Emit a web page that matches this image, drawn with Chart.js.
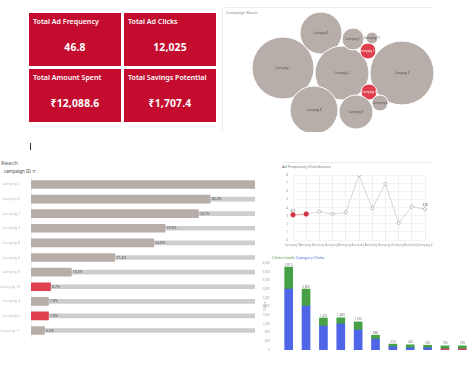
<!DOCTYPE html>
<html>
<head>
<meta charset="utf-8">
<script src="https://cdn.jsdelivr.net/npm/chart.js@4.4.1/dist/chart.umd.min.js"></script>
<style>
  body { margin: 0; background: #fff; font-family: "Noto Sans", "DejaVu Sans", sans-serif; }
  #page { position: relative; width: 474px; height: 365px; overflow: hidden; }
  .kpi { position: absolute; width: 92px; height: 53px; background: #c40c2e; color: #fff; }
  .kpi .t { position: absolute; left: 4px; top: 3px; font-size: 7.1px; font-weight: 600; }
  .kpi .v { position: absolute; left: 0; right: 0; top: 27px; text-align: center; font-size: 10.3px; font-weight: 700; letter-spacing: 0.2px; }
  .tiny { position: absolute; font-size: 4px; color: #888; white-space: nowrap; }
  canvas { position: absolute; }
  .line { position: absolute; background: #ececec; }
</style>
</head>
<body>
<div id="page">
  <div class="kpi" style="left:29px;top:13px"><div class="t">Total Ad Frequency</div><div class="v">46.8</div></div>
  <div class="kpi" style="left:124px;top:13px"><div class="t">Total Ad Clicks</div><div class="v">12,025</div></div>
  <div class="kpi" style="left:29px;top:69px"><div class="t">Total Amount Spent</div><div class="v">₹12,088.6</div></div>
  <div class="kpi" style="left:124px;top:69px"><div class="t">Total Savings Potential</div><div class="v">₹1,707.4</div></div>

  <div class="line" style="left:225px;top:7px;width:207px;height:1px"></div>
  <div class="line" style="left:222px;top:8px;width:1px;height:124px"></div>
  <div class="tiny" style="left:226px;top:10px">Campaign Reach</div>
  <canvas id="bubble" width="210" height="124" style="left:225px;top:8px"></canvas>

  <div style="position:absolute;left:30px;top:143px;width:1px;height:7px;background:#333"></div>
  <div class="tiny" style="left:1px;top:159px;font-size:6px;color:#666">Reach</div>
  <div class="tiny" style="left:4px;top:168px;font-size:4.5px;color:#444">campaign ID ≡</div>
  <canvas id="reach" width="262" height="171" style="left:0px;top:172px"></canvas>

  <div class="line" style="left:282px;top:162px;width:150px;height:1px"></div>
  <div class="tiny" style="left:282px;top:164px;font-size:4px;color:#777">Ad Frequency Distribution</div>
  <canvas id="freq" width="158" height="86" style="left:278px;top:164px"></canvas>

  <div class="tiny" style="left:272px;top:255px;font-size:4px"><span style="color:#3f9b3f">Clicks Leads</span> <span style="color:#4a63e0">Category Clicks</span></div>
  <canvas id="clicks" width="212" height="103" style="left:262px;top:255px"></canvas>
</div>

<script>
// bubble chart (packed circles)
const bubbleNames = ["Campaig 1", "Campaig 6", "Campaig 2", "Campaig 3", "Campaig 7", "Campaig 11", "Campaig 10", "Campaig 5", "Campaig 4", "Campaig 9", "Campaig 8"];
const bubbleX = [58, 96, 117, 177, 128, 147, 143, 144, 155, 131, 89];
const bubbleY = [60, 25, 65, 65, 31, 30, 43, 84, 95, 104, 102];
const bubbleR = [31, 21, 27, 32, 11, 6, 8, 8, 8, 17, 24];
const bubbleHot = ["Campaig 10", "Campaig 5"];

// reach bars
const reachNames = ["Campaig 2", "Campaig 6", "Campaig 7", "Campaig 3", "Campaig 8", "Campaig 0", "Campaig 9", "Campaig 10", "Campaig 4", "Campaig 5", "Campaig 11"];
const reachPct = [100, 80.0, 74.7, 59.8, 54.8, 37.4, 18.0, 8.7, 7.8, 7.8, 6.0];
const reachHot = ["Campaig 10", "Campaig 5"];

// ad frequency line
const freqNames = ["Campaig 10", "Campaig 5", "Campaig 2", "Campaig 6", "Campaig 3", "Campaig 8", "Campaig 0", "Campaig 7", "Campaig 9", "Campaig 1", "Campaig 4"];
const freqVals = [3.1, 3.2, 3.5, 3.2, 3.4, 8.0, 3.9, 6.9, 2.1, 4.1, 3.8];
const freqHot = ["Campaig 10", "Campaig 5"];

// clicks stacked bars
const clickNames = ["Campaig 2", "Campaig 6", "Campaig 7", "Campaig 3", "Campaig 8", "Campaig 0", "Campaig 9", "Campaig 4", "Campaig 11", "Campaig 10", "Campaig 5"];
const clickBase = [2800, 2020, 1100, 1200, 920, 500, 150, 100, 100, 50, 50];
const clickLeads = [1010, 780, 370, 280, 370, 180, 120, 140, 120, 140, 140];
const clickHot = ["Campaig 10", "Campaig 5"];

const GREY = "#b7aeaa";
const RED = "#e0404e";
const FONT = "'Noto Sans', 'DejaVu Sans', sans-serif";
Chart.defaults.font.family = FONT;
Chart.defaults.animation = false;

new Chart(document.getElementById('bubble'), {
  type: 'bubble',
  data: {
    datasets: [{
      data: bubbleNames.map((n, i) => ({ x: bubbleX[i], y: bubbleY[i], r: bubbleR[i] })),
      backgroundColor: bubbleNames.map(n => bubbleHot.includes(n) ? RED : GREY),
      borderColor: "#fff", borderWidth: 1, clip: false
    }]
  },
  options: {
    responsive: false,
    layout: { padding: 0, autoPadding: false },
    plugins: { legend: { display: false }, tooltip: { enabled: false } },
    scales: {
      x: { display: false, min: 0, max: 210 },
      y: { display: false, min: 0, max: 124, reverse: true }
    }
  },
  plugins: [{
    id: 'bubbleLabels',
    afterDatasetsDraw(chart) {
      const ctx = chart.ctx;
      ctx.save();
      ctx.font = "3px " + FONT;
      ctx.textAlign = "center"; ctx.textBaseline = "middle";
      chart.getDatasetMeta(0).data.forEach((p, i) => {
        ctx.fillStyle = bubbleHot.includes(bubbleNames[i]) ? "#fff" : "#555";
        ctx.fillText(bubbleNames[i], p.x, p.y);
      });
      ctx.restore();
    }
  }]
});

new Chart(document.getElementById('reach'), {
  type: 'bar',
  data: {
    labels: reachNames,
    datasets: [
      { data: reachPct, backgroundColor: reachNames.map(n => reachHot.includes(n) ? RED : GREY), barThickness: 8, grouped: false, order: 1 },
      { data: reachNames.map(() => 100), backgroundColor: "#cdcdcd", barThickness: 4, grouped: false, order: 2 }
    ]
  },
  options: {
    responsive: false,
    indexAxis: 'y',
    layout: { padding: { left: 0, right: 7, top: 0, bottom: 0 } },
    plugins: { legend: { display: false }, tooltip: { enabled: false } },
    scales: {
      x: { display: false, min: 0, max: 100 },
      y: {
        afterFit(s) { s.width = 31; },
        grid: { display: false },
        border: { color: "#eeeeee" },
        ticks: { font: { size: 3.6 }, color: "#bdbdbd", padding: 3 }
      }
    }
  },
  plugins: [{
    id: 'reachLabels',
    afterDatasetsDraw(chart) {
      const ctx = chart.ctx;
      ctx.save();
      ctx.font = "3.5px " + FONT;
      ctx.fillStyle = "#555";
      ctx.textBaseline = "middle";
      chart.getDatasetMeta(0).data.forEach((b, i) => {
        if (reachPct[i] >= 100) return;
        ctx.fillText(reachPct[i].toFixed(1) + "%", b.x + 1.5, b.y);
      });
      ctx.restore();
    }
  }]
});

new Chart(document.getElementById('freq'), {
  type: 'line',
  data: {
    labels: freqNames,
    datasets: [{
      data: freqVals,
      borderColor: "#d6d6d6",
      borderWidth: 1,
      segment: { borderColor: c => (freqHot.includes(freqNames[c.p0DataIndex]) && freqHot.includes(freqNames[c.p1DataIndex])) ? "#f0a0a8" : "#d6d6d6" },
      pointRadius: freqNames.map(n => freqHot.includes(n) ? 2.2 : 1.6),
      pointBackgroundColor: freqNames.map(n => freqHot.includes(n) ? "#d0303f" : "#fff"),
      pointBorderColor: freqNames.map(n => freqHot.includes(n) ? "#d0303f" : "#b0b0b0"),
      pointBorderWidth: 0.8,
      tension: 0
    }]
  },
  options: {
    responsive: false,
    layout: { padding: { left: 0, right: 11, top: 11, bottom: 0 } },
    plugins: { legend: { display: false }, tooltip: { enabled: false } },
    scales: {
      x: {
        afterFit(s) { s.height = 10; },
        grid: { color: "#efefef", drawTicks: false },
        border: { display: false },
        ticks: { font: { size: 3 }, color: "#999", autoSkip: false, maxRotation: 0, padding: 3 }
      },
      y: {
        min: 0, max: 8,
        afterFit(s) { s.width = 15; },
        grid: { color: "#f3f3f3", drawTicks: false },
        border: { display: false },
        ticks: { stepSize: 1, font: { size: 3.5 }, color: "#999", padding: 5 }
      }
    }
  },
  plugins: [{
    id: 'freqLabels',
    afterDatasetsDraw(chart) {
      const ctx = chart.ctx;
      const pts = chart.getDatasetMeta(0).data;
      ctx.save();
      ctx.font = "3.5px " + FONT;
      ctx.fillStyle = "#444";
      ctx.textAlign = "center";
      [0, pts.length - 1].forEach(i => ctx.fillText(freqVals[i].toFixed(1), pts[i].x, pts[i].y - 3));
      ctx.restore();
    }
  }]
});

new Chart(document.getElementById('clicks'), {
  type: 'bar',
  data: {
    labels: clickNames,
    datasets: [
      { label: "Category Clicks", data: clickBase, backgroundColor: clickNames.map(n => clickHot.includes(n) ? "#d6406a" : "#4d65e6"), barThickness: 8 },
      { label: "Clicks Leads", data: clickLeads, backgroundColor: "#46a046", barThickness: 8 }
    ]
  },
  options: {
    responsive: false,
    layout: { padding: { left: 0, right: 3, top: 8, bottom: 0 } },
    plugins: { legend: { display: false }, tooltip: { enabled: false } },
    scales: {
      x: {
        stacked: true,
        afterFit(s) { s.height = 8; },
        grid: { display: false },
        border: { display: false },
        ticks: { font: { size: 3 }, color: "#aaa", autoSkip: false, maxRotation: 0, padding: 2 }
      },
      y: {
        stacked: true, min: 0, max: 4000,
        afterFit(s) { s.width = 18; },
        grid: { display: false },
        border: { display: false },
        title: { display: true, text: "Clicks", font: { size: 3.5 }, color: "#999", padding: 1 },
        ticks: { stepSize: 200, font: { size: 3 }, color: "#aaa", padding: 2 }
      }
    }
  },
  plugins: [{
    id: 'clickTotals',
    afterDatasetsDraw(chart) {
      const ctx = chart.ctx;
      ctx.save();
      ctx.font = "3px " + FONT;
      ctx.fillStyle = "#777";
      ctx.textAlign = "center";
      chart.getDatasetMeta(1).data.forEach((b, i) => {
        ctx.fillText((clickBase[i] + clickLeads[i]).toLocaleString('en-US'), b.x, b.y - 1.5);
      });
      ctx.restore();
    }
  }]
});
</script>
</body>
</html>
